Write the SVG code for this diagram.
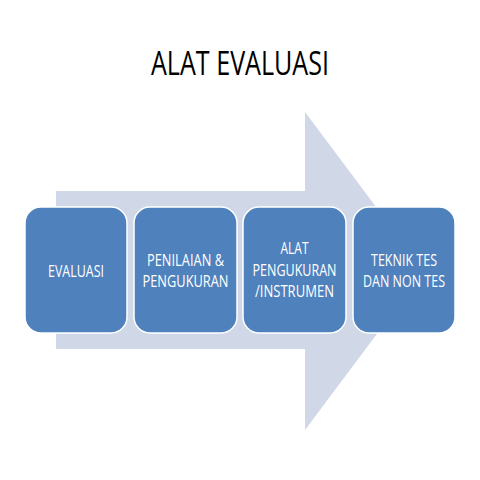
<svg xmlns="http://www.w3.org/2000/svg" width="480" height="480" viewBox="0 0 480 480">
<style>
.box{fill:#4f81bd;stroke:#ffffff;stroke-width:1.5}
.lbl{font-family:"Open Sans","Liberation Sans",sans-serif;font-size:17px;fill:#ffffff;text-anchor:middle}
.title{font-family:"Open Sans","Liberation Sans",sans-serif;font-size:32px;fill:#000000;text-anchor:middle}
</style>
<rect width="480" height="480" fill="#ffffff"/>
<text class="title" x="240" y="75" textLength="178" lengthAdjust="spacingAndGlyphs">ALAT EVALUASI</text>
<g id="arrow">
<polygon points="56,191 305,191 305,112 424,271 305,430 305,349 56,349" fill="#d0d8e8"/>
</g>
<g id="connectors"></g>
<g id="node1">
<rect class="box" x="25" y="207" width="102" height="126" rx="16"/>
<text class="lbl" x="76" y="277" textLength="56" lengthAdjust="spacingAndGlyphs">EVALUASI</text>
</g>
<g id="node2">
<rect class="box" x="134" y="207" width="103" height="126" rx="16"/>
<text class="lbl" x="185.5" y="266" textLength="77" lengthAdjust="spacingAndGlyphs">PENILAIAN &amp;</text>
<text class="lbl" x="185.5" y="287" textLength="86" lengthAdjust="spacingAndGlyphs">PENGUKURAN</text>
</g>
<g id="node3">
<rect class="box" x="243" y="207" width="103" height="126" rx="16"/>
<text class="lbl" x="294.5" y="254" textLength="28" lengthAdjust="spacingAndGlyphs">ALAT</text>
<text class="lbl" x="294.5" y="276" textLength="84" lengthAdjust="spacingAndGlyphs">PENGUKURAN</text>
<text class="lbl" x="294.5" y="297" textLength="79" lengthAdjust="spacingAndGlyphs">/INSTRUMEN</text>
</g>
<g id="node4">
<rect class="box" x="353" y="207" width="102" height="126" rx="16"/>
<text class="lbl" x="404" y="266" textLength="66" lengthAdjust="spacingAndGlyphs">TEKNIK TES</text>
<text class="lbl" x="404" y="287" textLength="82" lengthAdjust="spacingAndGlyphs">DAN NON TES</text>
</g>
</svg>
